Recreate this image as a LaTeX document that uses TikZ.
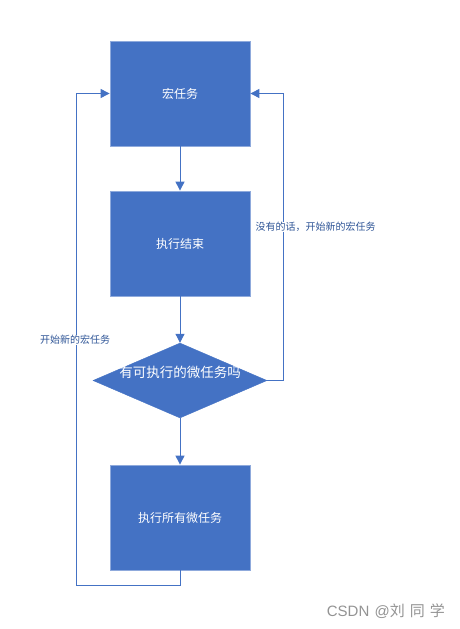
\documentclass[tikz,border=0pt]{standalone}
\usepackage{fontspec}
\newfontfamily\cjk{Noto Sans CJK SC}
\usetikzlibrary{arrows.meta,shapes.geometric}
\definecolor{boxblue}{HTML}{4472C4}
\definecolor{boxedge}{HTML}{8FAADC}
\definecolor{labblue}{HTML}{2F5597}
\begin{document}
\begin{tikzpicture}[x=1pt,y=-1pt,
  stepbox/.style={draw=boxedge,line width=0.8pt,fill=boxblue,minimum width=140pt,minimum height=105pt,inner sep=0pt,text=white,font=\cjk\fontsize{12}{14}\selectfont},
  conn/.style={draw=boxblue,line width=1pt,-{Triangle[width=9pt,length=9pt]}},
  lab/.style={text=labblue,font=\cjk\fontsize{10}{12}\selectfont,inner sep=0pt}]
\useasboundingbox (0,0) rectangle (459,629);
\node[stepbox] (a) at (180,93.5) {宏任务};
\node[stepbox] (b) at (180,243.5) {执行结束};
\node[draw=boxblue,fill=boxblue,diamond,aspect=2.32,minimum width=174pt,minimum height=75pt,inner sep=0pt] (d) at (180,380.5) {};
\node[text=white,font=\cjk\fontsize{13.5}{15}\selectfont,inner sep=0pt] (dt) at (180,372) {有可执行的微任务吗};
\node[stepbox] (c) at (180,517.5) {执行所有微任务};
\coordinate (r1) at (283,380.5);
\coordinate (r2) at (283,93.5);
\coordinate (l1) at (180,585);
\coordinate (l2) at (76,585);
\coordinate (l3) at (76,93.5);
\draw[conn] (a.south) -- (b.north);
\draw[conn] (b.south) -- (d.north);
\draw[conn] (d.south) -- (c.north);
\draw[conn] (d.east) -- (r1) -- (r2) -- (a.east);
\draw[conn] (c.south) -- (l1) -- (l2) -- (l3) -- (a.west);
\node[lab,fill=white,inner xsep=1pt] (lr) at (315.5,227) {没有的话，开始新的宏任务};
\node[lab,fill=white,inner xsep=1pt] (ll) at (75,340) {开始新的宏任务};
\node[text=gray!85,font=\fontspec{Liberation Sans}\fontsize{15}{17}\selectfont,inner sep=0pt,anchor=east] (wm) at (445,611) {CSDN\hspace{1pt} @{\cjk 刘\hspace{5pt}同\hspace{5pt}学}};
\end{tikzpicture}
\end{document}
